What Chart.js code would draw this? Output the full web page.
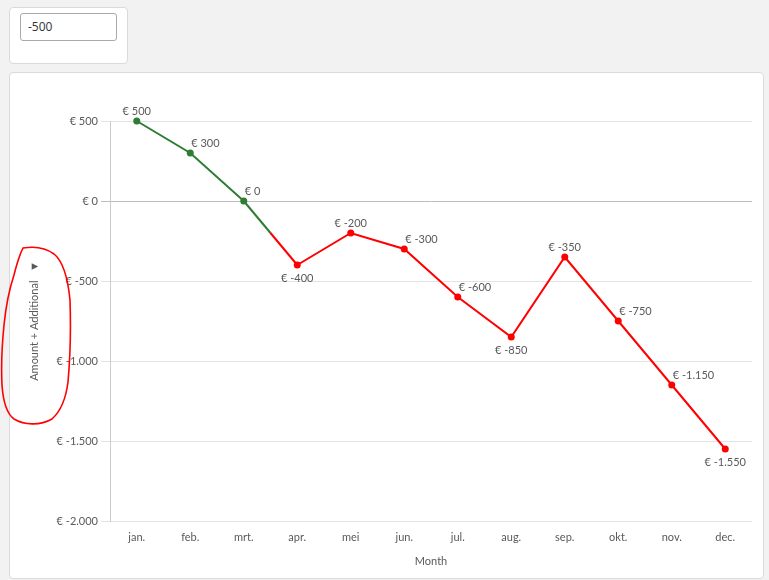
<!DOCTYPE html>
<html><head><meta charset="utf-8">
<script src="https://cdn.jsdelivr.net/npm/chart.js@4"></script>
<style>
html,body{margin:0;padding:0;width:769px;height:580px;background:#f2f2f2;overflow:hidden;font-family:Lato,sans-serif}
.card{position:absolute;background:#fff;border:1px solid #dadada;border-radius:4px;box-sizing:border-box}
#top{left:9px;top:7px;width:119px;height:57px}
#inp{position:absolute;left:10px;top:5px;width:97px;height:28px;box-sizing:border-box;border:1px solid #a9a9a9;border-radius:3px;font:12px "Open Sans",sans-serif;padding:0 7px;color:#333;line-height:26px}
#main{left:9px;top:72px;width:755px;height:507px}
#c{position:absolute;left:0;top:0;width:769px;height:580px}
svg{position:absolute;left:0;top:0}
</style>
</head><body>
<div class="card" id="top"><div id="inp">-500</div></div>
<div class="card" id="main"></div>
<canvas id="c" width="769" height="580"></canvas>
<svg width="769" height="580"><path d="M23,248 C35,246 46,248 54,254 C64,262 68,280 70,300 C71,330 70,360 68,382 C66,398 62,410 52,419 C40,426 24,425 14,419 C6,413 3,400 2,385 C1,365 2,345 4,325 C6,305 9,290 14,275 C17,263 20,254 23,248 Z" fill="none" stroke="#ff0000" stroke-width="1.6"/></svg>
<script>
const months = ['jan.','feb.','mrt.','apr.','mei','jun.','jul.','aug.','sep.','okt.','nov.','dec.'];
const amounts = [500,300,0,-400,-200,-300,-600,-850,-350,-750,-1150,-1550];
const yMin = -2000, yMax = 500, yStep = 500;

const GREEN = '#2e7d32', RED = '#ff0000';
const FONT = 'Lato, sans-serif';
function fmt(v){
  const neg = v < 0; let s = String(Math.abs(v));
  s = s.replace(/\B(?=(\d{3})+(?!\d))/g, '.');
  return '€ ' + (neg ? '-' : '') + s;
}
const labelPlugin = {
  id: 'vals',
  afterDatasetsDraw(chart){
    const ctx = chart.ctx;
    const pts = chart.getDatasetMeta(0).data;
    const d = chart.data.datasets[0].data;
    ctx.save();
    ctx.font = '11px ' + FONT;
    ctx.fillStyle = '#595959';
    ctx.textBaseline = 'middle';
    pts.forEach((p, i) => {
      const v = d[i];
      const prev = i > 0 ? d[i-1] : null, next = i < d.length-1 ? d[i+1] : null;
      const peak = (prev === null || v > prev) && (next === null || v > next);
      const trough = (prev === null || v < prev) && (next === null || v < next);
      if (peak) { ctx.textAlign = 'center'; ctx.fillText(fmt(v), p.x, p.y - 10); }
      else if (trough) { ctx.textAlign = 'center'; ctx.fillText(fmt(v), p.x, p.y + 13); }
      else { ctx.textAlign = 'left'; ctx.fillText(fmt(v), p.x + 1, p.y - 10); }
    });
    ctx.restore();
  }
};
new Chart(document.getElementById('c'), {
  type: 'line',
  data: { labels: months, datasets: [{
    data: amounts,
    clip: false,
    borderWidth: 2,
    pointRadius: 3.5,
    pointHoverRadius: 3.5,
    pointBorderWidth: 0,
    pointBackgroundColor: c => (amounts[c.dataIndex] >= 0 ? GREEN : RED),
    borderColor: RED,
    segment: {
      borderColor: s => {
        const a = amounts[s.p0DataIndex], b = amounts[s.p1DataIndex];
        if (a >= 0 && b >= 0) return GREEN;
        if (a < 0 && b < 0) return RED;
        const g = s.chart.ctx.createLinearGradient(s.p0.x, s.p0.y, s.p1.x, s.p1.y);
        const c0 = a >= 0 ? GREEN : RED, c1 = a >= 0 ? RED : GREEN;
        g.addColorStop(0, c0); g.addColorStop(0.5, c0); g.addColorStop(0.5, c1); g.addColorStop(1, c1);
        return g;
      }
    },
    tension: 0
  }]},
  options: {
    responsive: false, animation: false, events: [],
    layout: { padding: { left: 24, top: 121, right: 17, bottom: 8 } },
    plugins: { legend: { display: false }, tooltip: { enabled: false } },
    scales: {
      x: {
        offset: true,
        grid: { display: false, drawTicks: false },
        border: { display: false },
        ticks: { color: '#595959', font: { family: FONT, size: 11 }, padding: 10, maxRotation: 0 },
        title: { display: true, text: 'Month', color: '#595959', font: { family: FONT, size: 11 }, padding: { top: 4, bottom: 4 } },
        afterFit(s){ s.height = 51; }
      },
      y: {
        min: yMin, max: yMax,
        ticks: { stepSize: yStep, color: '#595959', font: { family: FONT, size: 11 }, padding: 3, callback: v => fmt(v) },
        grid: { color: c => (c.tick && c.tick.value === 0 ? '#bdbdbd' : '#e3e3e3'), tickLength: 9, lineWidth: 1 },
        border: { display: true, color: '#cccccc' },
        title: { display: true, text: 'Amount + Additional   ▼', color: '#595959', font: { family: FONT, size: 11 }, padding: { top: 4, bottom: 4 } },
        afterFit(s){ s.width = 86; }
      }
    }
  },
  plugins: [labelPlugin]
});
</script>
</body></html>
